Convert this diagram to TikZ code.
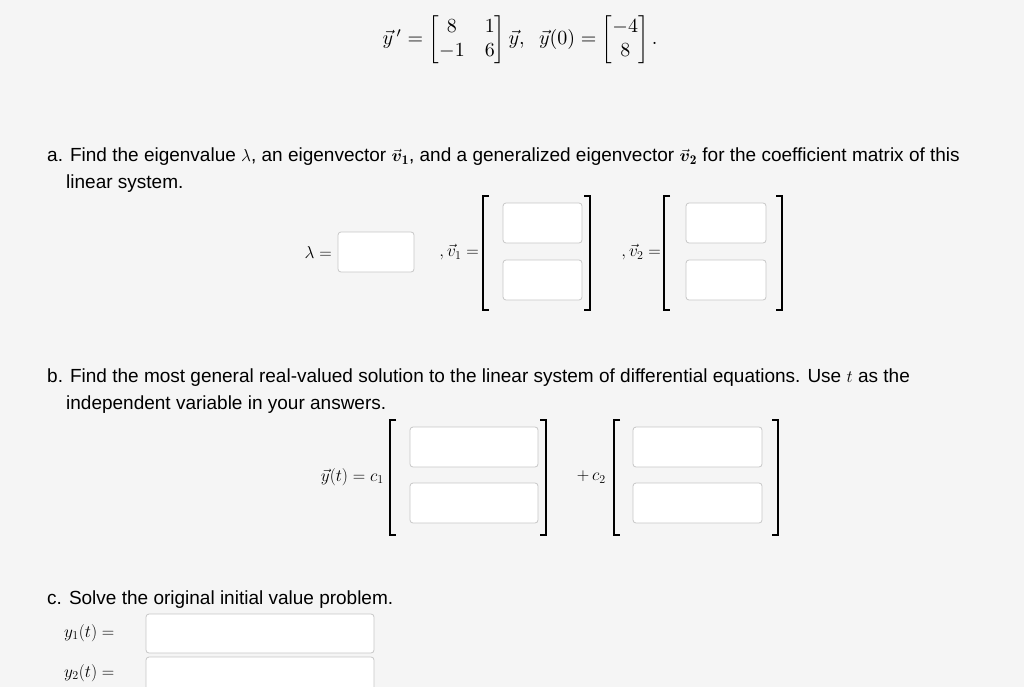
\documentclass[tikz,border=0pt]{standalone}
\usepackage{amsmath}
\usepackage{fontspec}
\usepackage{graphicx}
\newfontfamily\uisans{Liberation Sans}
\begin{document}
\begin{tikzpicture}[x=1pt,y=-1pt,
  txt/.style={anchor=west,inner sep=0pt,font=\uisans\fontsize{19}{22}\selectfont},
  mth/.style={inner sep=0pt,font=\LARGE},
  ibox/.style={draw=black!22,fill=white,rounded corners=3pt,line width=0.8pt},
  brk/.style={line width=1.1pt}]
\useasboundingbox (0,0) rectangle (1024,687);
\fill[black!4] (0,0) rectangle (1024,687);
\node[inner sep=0pt] (eq) at (520,40) {\scalebox{2}{$\vec{y}\,'=\begin{bmatrix}8&1\\-1&6\end{bmatrix}\vec{y},\;\; \vec{y}(0)=\begin{bmatrix}-4\\8\end{bmatrix}.$}};
\node[txt] (ta1) at (47,157) {a. Find the eigenvalue $\lambda$, an eigenvector $\vec{\boldsymbol v}_{\mathbf 1}$, and a generalized eigenvector $\vec{\boldsymbol v}_{\mathbf 2}$ for the coefficient matrix of this};
\node[txt] (ta2) at (66,184) {linear system.};
\node[mth,anchor=east] (lam) at (332,252) {$\lambda=$};
\draw[ibox] (338,232) rectangle (414,272);
\node[mth,anchor=east] (v1) at (479,252) {$,\vec{v}_1=$};
\draw[brk] (489,196) -- (483,196) -- (483,310) -- (489,310);
\draw[ibox] (503,203) rectangle (582,243);
\draw[ibox] (503,260) rectangle (582,300);
\draw[brk] (584,196) -- (590,196) -- (590,310) -- (584,310);
\node[mth,anchor=east] (v2) at (661,252) {$,\vec{v}_2=$};
\draw[brk] (670,196) -- (664,196) -- (664,310) -- (670,310);
\draw[ibox] (686,203) rectangle (766,243);
\draw[ibox] (686,260) rectangle (766,300);
\draw[brk] (776,196) -- (782,196) -- (782,310) -- (776,310);
\node[txt] (tb1) at (47,378) {b. Find the most general real-valued solution to the linear system of differential equations. Use $t$ as the};
\node[txt] (tb2) at (66,405) {independent variable in your answers.};
\node[mth,anchor=east] (yt) at (384,477) {$\vec{y}(t)=c_1$};
\draw[brk] (396,420) -- (390,420) -- (390,535) -- (396,535);
\draw[ibox] (410,427) rectangle (538,467);
\draw[ibox] (410,483) rectangle (538,523);
\draw[brk] (540,420) -- (546,420) -- (546,535) -- (540,535);
\node[mth,anchor=east] (c2) at (606,477) {$+\,c_2$};
\draw[brk] (620,420) -- (614,420) -- (614,535) -- (620,535);
\draw[ibox] (633,427) rectangle (762,467);
\draw[ibox] (633,483) rectangle (762,523);
\draw[brk] (772,420) -- (778,420) -- (778,535) -- (772,535);
\node[txt] (tc) at (47,600) {c. Solve the original initial value problem.};
\node[mth,anchor=west] (y1) at (64,633) {$y_1(t)=$};
\draw[ibox] (146,614) rectangle (374,653);
\node[mth,anchor=west] (y2) at (64,673) {$y_2(t)=$};
\draw[ibox] (146,657) rectangle (374,700);
\end{tikzpicture}
\end{document}
